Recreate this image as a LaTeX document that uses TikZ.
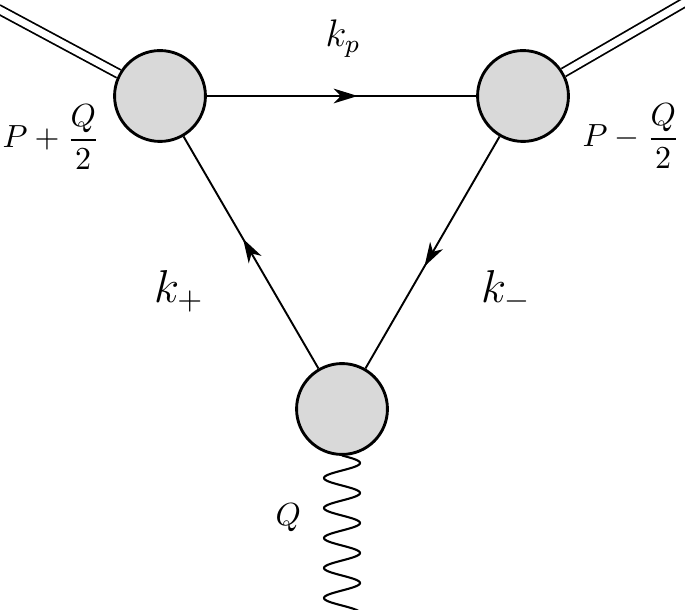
\documentclass[tikz,border=0pt]{standalone}
\usetikzlibrary{arrows.meta,decorations.markings}
\definecolor{blobgray}{RGB}{217,217,217}
\begin{document}
\begin{tikzpicture}[x=0.3125pt,y=-0.3125pt,
  blob/.style={circle,draw,line width=0.9pt,fill=blobgray,minimum size=28.4pt,inner sep=0pt},
  prop/.style={line width=0.6pt,postaction={decorate},
    decoration={markings,mark=at position 0.56 with {\arrow{Stealth[length=7.5pt,width=4.6pt,inset=2.2pt]}}}},
  ext/.style={double,line width=0.55pt,double distance=2.2pt},
  lab/.style={inner sep=0pt}]
\useasboundingbox (0,0) rectangle (685,610);
% vertices
\node[blob] (L) at (160,96) {};
\node[blob] (R) at (523,96) {};
\node[blob] (B) at (342,409) {};
% external legs
\coordinate (Lend) at (-2,9);
\coordinate (Rend) at (687,1);
\draw[ext] (L) -- (Lend);
\draw[ext] (R) -- (Rend);
% propagators
\draw[prop] (L) -- (R);
\draw[prop] (B) -- (L);
\draw[prop] (R) -- (B);
% photon
\draw[line width=0.65pt] plot[domain=0:156,samples=300,smooth] ({342+18*sin(12*\x)},{455.5+\x});
% labels
\node[lab,anchor=base] (kp) at (343,47) {\large $k_p$};
\node[lab,anchor=base] (kplus) at (179,303) {\Large $k_+$};
\node[lab,anchor=base] (kminus) at (506,303) {\Large $k_-$};
\node[lab,anchor=base west] (PQp) at (2,148) {$\displaystyle P+\frac{Q}{2}$};
\node[lab,anchor=base west] (PQm) at (582,147) {$\displaystyle P-\frac{Q}{2}$};
\node[lab,anchor=base west] (Qlab) at (275,525) {$Q$};
\end{tikzpicture}
\end{document}
